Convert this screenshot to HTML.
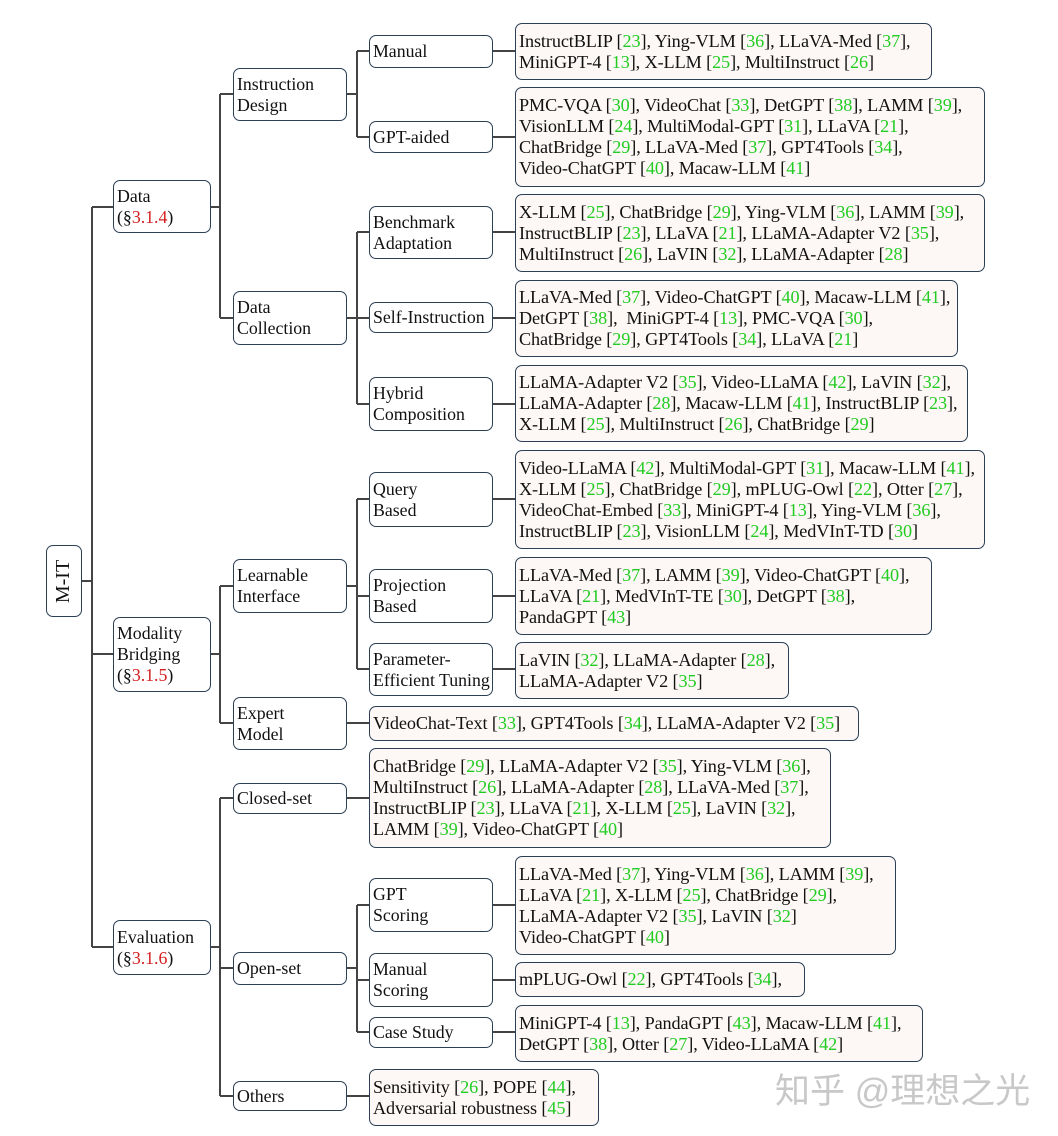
<!DOCTYPE html>
<html><head><meta charset="utf-8"><style>
body{margin:0;background:#fff;width:1058px;height:1136px;position:relative;overflow:hidden;font-family:"Liberation Serif",serif;color:#111;}
.b{position:absolute;box-sizing:border-box;border:1.6px solid #2b3f55;border-radius:7px;background:#fff;font-size:17.8px;line-height:21px;padding:2px 3px;display:flex;align-items:center;white-space:nowrap;}
.b>div{display:block}
.l{background:#fdf8f6;font-size:18.2px;letter-spacing:-0.1px}
.g{color:#22cc22}.r{color:#d42020}
svg{position:absolute;left:0;top:0}
</style></head><body>
<svg width="1058" height="1136"><g stroke="#444" stroke-width="2" fill="none">
<path d="M82 581H92M92 207V947M92 207H113M92 654H113M92 947H113"/>
<path d="M211 207H220M220 94V318M220 94H233M220 318H233"/>
<path d="M211 654H220M220 586V723M220 586H233M220 723H233"/>
<path d="M211 947H220M220 798V1096M220 798H233M220 968H233M220 1096H233"/>
<path d="M347 94H357M357 51V137M357 51H369M357 137H369"/>
<path d="M347 318H357M357 232V404M357 232H369M357 318H369M357 404H369"/>
<path d="M347 586H357M357 499V669M357 499H369M357 596H369M357 669H369"/>
<path d="M347 968H357M357 905V1032M357 905H369M357 980H369M357 1032H369"/>
<path d="M347 723H369M347 798H369M347 1096H369"/>
<path d="M493 51H515M493 137H515M493 232H515M493 318H515M493 404H515M493 499H515M493 596H515M493 669H515M493 905H515M493 980H515M493 1032H515"/>
</g></svg>

<div class="b" style="left:46px;top:545px;width:36px;height:72px;justify-content:center;padding:0"><div style="transform:rotate(-90deg);font-size:20px">M-IT</div></div>

<div class="b" style="left:113px;top:180px;width:98px;height:53px"><div>Data<br>(§<span class="r">3.1.4</span>)</div></div>
<div class="b" style="left:113px;top:617px;width:98px;height:75px"><div>Modality<br>Bridging<br>(§<span class="r">3.1.5</span>)</div></div>
<div class="b" style="left:113px;top:920px;width:98px;height:55px"><div>Evaluation<br>(§<span class="r">3.1.6</span>)</div></div>

<div class="b" style="left:233px;top:68px;width:114px;height:53px"><div>Instruction<br>Design</div></div>
<div class="b" style="left:233px;top:291px;width:114px;height:54px"><div>Data<br>Collection</div></div>
<div class="b" style="left:233px;top:559px;width:114px;height:54px"><div>Learnable<br>Interface</div></div>
<div class="b" style="left:233px;top:697px;width:114px;height:53px"><div>Expert<br>Model</div></div>
<div class="b" style="left:233px;top:783px;width:114px;height:31px"><div>Closed-set</div></div>
<div class="b" style="left:233px;top:952px;width:114px;height:33px"><div>Open-set</div></div>
<div class="b" style="left:233px;top:1081px;width:114px;height:30px"><div>Others</div></div>

<div class="b" style="left:369px;top:35px;width:124px;height:33px"><div>Manual</div></div>
<div class="b" style="left:369px;top:121px;width:124px;height:32px"><div>GPT-aided</div></div>
<div class="b" style="left:369px;top:206px;width:124px;height:53px"><div>Benchmark<br>Adaptation</div></div>
<div class="b" style="left:369px;top:302px;width:124px;height:31px"><div>Self-Instruction</div></div>
<div class="b" style="left:369px;top:377px;width:124px;height:54px"><div>Hybrid<br>Composition</div></div>
<div class="b" style="left:369px;top:472px;width:124px;height:55px"><div>Query<br>Based</div></div>
<div class="b" style="left:369px;top:569px;width:124px;height:54px"><div>Projection<br>Based</div></div>
<div class="b" style="left:369px;top:643px;width:124px;height:53px"><div>Parameter-<br>Efficient Tuning</div></div>
<div class="b" style="left:369px;top:878px;width:124px;height:54px"><div>GPT<br>Scoring</div></div>
<div class="b" style="left:369px;top:953px;width:124px;height:54px"><div>Manual<br>Scoring</div></div>
<div class="b" style="left:369px;top:1017px;width:124px;height:31px"><div>Case Study</div></div>

<div class="b l" style="left:515px;top:23px;width:417px;height:57px"><div>InstructBLIP [<span class="g">23</span>], Ying-VLM [<span class="g">36</span>], LLaVA-Med [<span class="g">37</span>],<br>MiniGPT-4 [<span class="g">13</span>], X-LLM [<span class="g">25</span>], MultiInstruct [<span class="g">26</span>]</div></div>
<div class="b l" style="left:515px;top:87px;width:470px;height:100px"><div>PMC-VQA [<span class="g">30</span>], VideoChat [<span class="g">33</span>], DetGPT [<span class="g">38</span>], LAMM [<span class="g">39</span>],<br>VisionLLM [<span class="g">24</span>], MultiModal-GPT [<span class="g">31</span>], LLaVA [<span class="g">21</span>],<br>ChatBridge [<span class="g">29</span>], LLaVA-Med [<span class="g">37</span>], GPT4Tools [<span class="g">34</span>],<br>Video-ChatGPT [<span class="g">40</span>], Macaw-LLM [<span class="g">41</span>]</div></div>
<div class="b l" style="left:515px;top:194px;width:470px;height:78px"><div>X-LLM [<span class="g">25</span>], ChatBridge [<span class="g">29</span>], Ying-VLM [<span class="g">36</span>], LAMM [<span class="g">39</span>],<br>InstructBLIP [<span class="g">23</span>], LLaVA [<span class="g">21</span>], LLaMA-Adapter V2 [<span class="g">35</span>],<br>MultiInstruct [<span class="g">26</span>], LaVIN [<span class="g">32</span>], LLaMA-Adapter [<span class="g">28</span>]</div></div>
<div class="b l" style="left:515px;top:280px;width:443px;height:77px"><div>LLaVA-Med [<span class="g">37</span>], Video-ChatGPT [<span class="g">40</span>], Macaw-LLM [<span class="g">41</span>],<br>DetGPT [<span class="g">38</span>],&nbsp; MiniGPT-4 [<span class="g">13</span>], PMC-VQA [<span class="g">30</span>],<br>ChatBridge [<span class="g">29</span>], GPT4Tools [<span class="g">34</span>], LLaVA [<span class="g">21</span>]</div></div>
<div class="b l" style="left:515px;top:365px;width:453px;height:77px"><div>LLaMA-Adapter V2 [<span class="g">35</span>], Video-LLaMA [<span class="g">42</span>], LaVIN [<span class="g">32</span>],<br>LLaMA-Adapter [<span class="g">28</span>], Macaw-LLM [<span class="g">41</span>], InstructBLIP [<span class="g">23</span>],<br>X-LLM [<span class="g">25</span>], MultiInstruct [<span class="g">26</span>], ChatBridge [<span class="g">29</span>]</div></div>
<div class="b l" style="left:515px;top:450px;width:470px;height:99px"><div>Video-LLaMA [<span class="g">42</span>], MultiModal-GPT [<span class="g">31</span>], Macaw-LLM [<span class="g">41</span>],<br>X-LLM [<span class="g">25</span>], ChatBridge [<span class="g">29</span>], mPLUG-Owl [<span class="g">22</span>], Otter [<span class="g">27</span>],<br>VideoChat-Embed [<span class="g">33</span>], MiniGPT-4 [<span class="g">13</span>], Ying-VLM [<span class="g">36</span>],<br>InstructBLIP [<span class="g">23</span>], VisionLLM [<span class="g">24</span>], MedVInT-TD [<span class="g">30</span>]</div></div>
<div class="b l" style="left:515px;top:557px;width:417px;height:78px"><div>LLaVA-Med [<span class="g">37</span>], LAMM [<span class="g">39</span>], Video-ChatGPT [<span class="g">40</span>],<br>LLaVA [<span class="g">21</span>], MedVInT-TE [<span class="g">30</span>], DetGPT [<span class="g">38</span>],<br>PandaGPT [<span class="g">43</span>]</div></div>
<div class="b l" style="left:515px;top:642px;width:274px;height:57px"><div>LaVIN [<span class="g">32</span>], LLaMA-Adapter [<span class="g">28</span>],<br>LLaMA-Adapter V2 [<span class="g">35</span>]</div></div>
<div class="b l" style="left:369px;top:706px;width:490px;height:35px"><div>VideoChat-Text [<span class="g">33</span>], GPT4Tools [<span class="g">34</span>], LLaMA-Adapter V2 [<span class="g">35</span>]</div></div>
<div class="b l" style="left:369px;top:748px;width:462px;height:100px"><div>ChatBridge [<span class="g">29</span>], LLaMA-Adapter V2 [<span class="g">35</span>], Ying-VLM [<span class="g">36</span>],<br>MultiInstruct [<span class="g">26</span>], LLaMA-Adapter [<span class="g">28</span>], LLaVA-Med [<span class="g">37</span>],<br>InstructBLIP [<span class="g">23</span>], LLaVA [<span class="g">21</span>], X-LLM [<span class="g">25</span>], LaVIN [<span class="g">32</span>],<br>LAMM [<span class="g">39</span>], Video-ChatGPT [<span class="g">40</span>]</div></div>
<div class="b l" style="left:515px;top:856px;width:381px;height:99px"><div>LLaVA-Med [<span class="g">37</span>], Ying-VLM [<span class="g">36</span>], LAMM [<span class="g">39</span>],<br>LLaVA [<span class="g">21</span>], X-LLM [<span class="g">25</span>], ChatBridge [<span class="g">29</span>],<br>LLaMA-Adapter V2 [<span class="g">35</span>], LaVIN [<span class="g">32</span>]<br>Video-ChatGPT [<span class="g">40</span>]</div></div>
<div class="b l" style="left:515px;top:962px;width:290px;height:35px"><div>mPLUG-Owl [<span class="g">22</span>], GPT4Tools [<span class="g">34</span>],</div></div>
<div class="b l" style="left:515px;top:1005px;width:408px;height:57px"><div>MiniGPT-4 [<span class="g">13</span>], PandaGPT [<span class="g">43</span>], Macaw-LLM [<span class="g">41</span>],<br>DetGPT [<span class="g">38</span>], Otter [<span class="g">27</span>], Video-LLaMA [<span class="g">42</span>]</div></div>
<div class="b l" style="left:369px;top:1069px;width:230px;height:57px"><div>Sensitivity [<span class="g">26</span>], POPE [<span class="g">44</span>],<br>Adversarial robustness [<span class="g">45</span>]</div></div>

<div style="position:absolute;left:775px;top:1063px;font-family:'Liberation Sans','Noto Sans CJK SC',sans-serif;font-size:35px;color:#c8c8c8;white-space:nowrap">知乎 @理想之光</div>
</body></html>
